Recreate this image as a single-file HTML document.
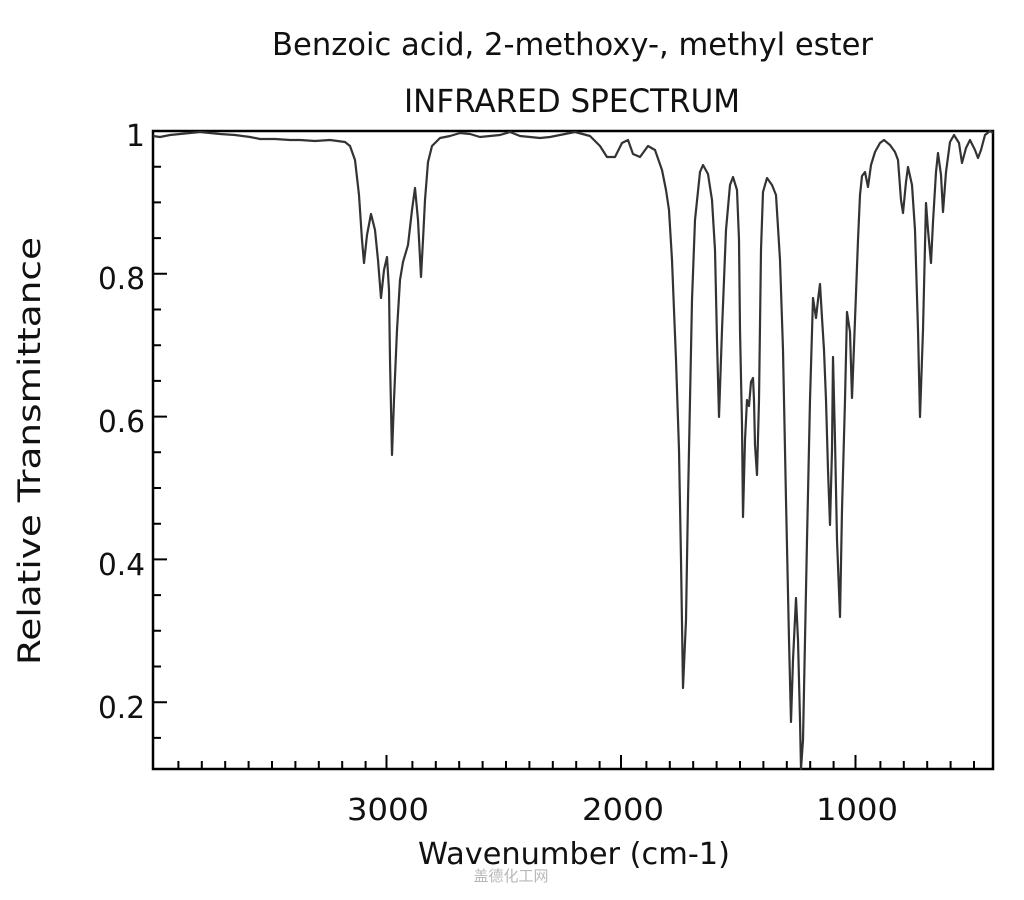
<!DOCTYPE html>
<html><head><meta charset="utf-8"><style>
html,body{margin:0;padding:0;background:#fff;}
svg{display:block;}
text{font-family:"DejaVu Sans","Liberation Sans","Noto Sans CJK SC",sans-serif;fill:#111;}
</style></head><body>
<svg width="1024" height="900" viewBox="0 0 1024 900" xmlns="http://www.w3.org/2000/svg">
<text x="272" y="55" font-size="31" textLength="601" lengthAdjust="spacingAndGlyphs">Benzoic acid, 2-methoxy-, methyl ester</text>
<text x="404" y="112" font-size="32" textLength="336" lengthAdjust="spacingAndGlyphs">INFRARED SPECTRUM</text>
<text transform="translate(40,451) rotate(-90)" font-size="31" text-anchor="middle" textLength="428" lengthAdjust="spacingAndGlyphs">Relative Transmittance</text>
<g font-size="30" text-anchor="end">
<text x="145" y="146">1</text>
<text x="145" y="289" textLength="47" lengthAdjust="spacingAndGlyphs">0.8</text>
<text x="145" y="432" textLength="47" lengthAdjust="spacingAndGlyphs">0.6</text>
<text x="145" y="575" textLength="47" lengthAdjust="spacingAndGlyphs">0.4</text>
<text x="145" y="718" textLength="47" lengthAdjust="spacingAndGlyphs">0.2</text>
</g>
<g font-size="30">
<text x="347" y="820" textLength="82" lengthAdjust="spacingAndGlyphs">3000</text>
<text x="582" y="820" textLength="82" lengthAdjust="spacingAndGlyphs">2000</text>
<text x="816" y="820" textLength="82" lengthAdjust="spacingAndGlyphs">1000</text>
<text x="418" y="864" textLength="312" lengthAdjust="spacingAndGlyphs">Wavenumber (cm-1)</text>
</g>
<text x="511" y="881" font-size="15" text-anchor="middle" style="fill:#b8b8b8">盖德化工网</text>
<rect x="153" y="131" width="840" height="638" fill="none" stroke="#000" stroke-width="2.5"/>
<path stroke="#000" stroke-width="2" fill="none" d="
M178.4 769v-8M201.8 769v-8M225.2 769v-8M248.6 769v-8M272 769v-8M295.4 769v-8M318.8 769v-8M342.2 769v-8M365.6 769v-8M386.5 769v-14
M412.4 769v-8M435.8 769v-8M459.2 769v-8M482.6 769v-8M506 769v-8M529.4 769v-8M552.8 769v-8M576.2 769v-8M599.6 769v-8M621 769v-14
M646.4 769v-8M669.8 769v-8M693.2 769v-8M716.6 769v-8M740 769v-8M763.4 769v-8M786.8 769v-8M810.2 769v-8M833.6 769v-8M855.5 769v-14
M880.4 769v-8M903.8 769v-8M927.2 769v-8M950.6 769v-8M974 769v-8
M153 166.7h8M153 202.4h8M153 238.1h8M153 273.8h14M153 309.5h8M153 345.2h8M153 380.9h8M153 416.6h14M153 452.3h8M153 488h8M153 523.7h8M153 559.4h14M153 595.1h8M153 630.8h8M153 666.5h8M153 702.2h14M153 737.9h8"/>
<path stroke="#333" stroke-width="2.2" fill="none" stroke-linejoin="round" d="
M153 136 L160 137 L170 135 L180 134 L190 133 L200 132 L210 133 L220 134 L235 135 L250 137 L260 139 L275 139 L290 140 L300 140 L315 141 L330 140 L345 142 L350 146 L355 160 L359 195 L362 240 L364 263
L367 235 L371 214 L375 230 L378 260 L381 298 L384 270 L387 257 L389 290 L390 360 L392 455 L394 400 L397 330 L400 280 L403 262 L408 245 L412 210 L415 188 L418 220 L421 277 L423 240 L425 200 L428 162 L432 146 L440 138 L450 136 L460 133 L470 134 L480 137 L490 136 L500 135 L510 132 L520 136 L530 137 L540 138 L550 137 L560 135 L575 132 L590 136 L600 146 L607 157 L615 157 L622 143 L628 140 L633 154 L640 157 L648 146 L655 150 L662 170 L666 190
L669 210 L672 260 L676 360 L679 450 L681 560 L683 688 L686 620 L688 500 L690 400 L692 300 L695 220 L700 172 L703 165 L708 174 L712 200 L715 250 L717 340 L719 417 L722 330 L726 230 L730 185 L733 177 L737 190 L739 240 L740 330 L742 425 L743 517 L745 440 L747 400 L749 406 L751 382 L753 378 L754 400 L755 445 L757 475 L759 400 L761 250 L763 192 L767 178 L772 185 L776 195 L780 260 L783 350 L786 500 L789 640 L791 722 L793 660 L796 598 L798 640 L800 720 L801 769 L803 740 L805 640 L807 540 L810 400 L813 298 L816 318 L818 300 L820 284 L822 318 L824 350 L826 400 L828 470 L830 525 L832 450 L833 357 L835 440 L837 540 L840 617 L842 510 L845 400 L847 312 L850 332 L852 398 L855 320 L858 240 L860 195 L862 176 L865 172 L868 187 L871 165 L875 152 L880 143 L884 140 L890 145 L895 152 L898 160 L901 200 L903 213 L906 182 L908 167 L912 185 L915 230 L918 330 L920 417 L923 330 L926 203 L928 230 L931 263 L933 222 L936 172 L938 153 L941 175 L943 212 L946 172 L950 142 L954 135 L959 143 L962 163 L966 148 L970 140 L975 150 L978 158 L981 150 L985 135 L990 131 L993 133"/>
</svg>
</body></html>
